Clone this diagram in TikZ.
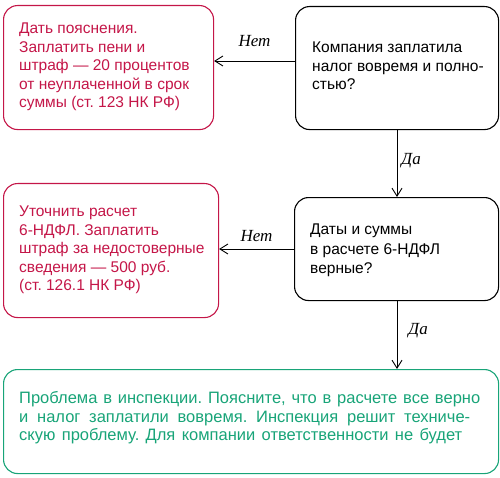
\documentclass[tikz,border=0pt]{standalone}
\usepackage{fontspec}
\setmainfont{Liberation Sans}
\newfontfamily\lblfont{Liberation Serif}
\usetikzlibrary{arrows.meta}
\definecolor{boxred}{RGB}{196,22,72}
\definecolor{boxgreen}{RGB}{24,164,120}
\frenchspacing
\newcommand{\fitline}[2]{\makebox[#1bp][s]{#2}}
\begin{document}
\begin{tikzpicture}[x=1bp,y=-1bp,
  box/.style={draw, line width=1.1bp, rounded corners=14bp, inner sep=0pt, anchor=north west},
  redbox/.style={box, draw=boxred},
  blackbox/.style={box, draw=black},
  greenbox/.style={box, draw=boxgreen},
  txt/.style={align=left, anchor=north west, inner sep=0pt, font=\fontsize{15.5bp}{18.5bp}\selectfont},
  conn/.style={line width=0.9bp, -{Straight Barb[length=8bp,width=10bp,line width=0.9bp]}},
  lbl/.style={font=\lblfont\itshape\fontsize{17bp}{18bp}\selectfont, inner sep=0pt}]
\useasboundingbox (0,0) rectangle (500,478);
\node[redbox, minimum width=210bp, minimum height=124bp] (b1) at (3,5) {};
\node[txt, text=boxred] (t1) at (19,23)
  {Дать пояснения.\\Заплатить пени и\\штраф — 20 процентов\\от неуплаченной в срок\\суммы (ст. 123 НК РФ)};
\node[blackbox, minimum width=203bp, minimum height=123bp] (b2) at (295,6) {};
\node[txt] (t2) at (312,42)
  {Компания заплатила\\налог вовремя и полно-\\стью?};
\node[redbox, minimum width=215bp, minimum height=134bp] (b3) at (3,183) {};
\node[txt, text=boxred] (t3) at (19,206)
  {Уточнить расчет\\6-НДФЛ. Заплатить\\штраф за недостоверные\\сведения — 500 руб.\\(ст. 126.1 НК РФ)};
\node[blackbox, minimum width=204bp, minimum height=103bp] (b4) at (294,197) {};
\node[txt, font=\fontsize{15.5bp}{19.2bp}\selectfont] (t4) at (310,224)
  {Даты и суммы\\в расчете 6-НДФЛ\\верные?};
\node[greenbox, minimum width=495bp, minimum height=104bp] (b5) at (3,369) {};
\node[txt, text=boxgreen, font=\fontsize{16.5bp}{18.5bp}\selectfont] (t5) at (19,391.5)
  {\fitline{461}{Проблема в инспекции. Поясните, что в расчете все верно}\\\fitline{451}{и налог заплатили вовремя. Инспекция решит техниче-}\\\fitline{443}{скую проблему. Для компании ответственности не будет}};
\coordinate (a1s) at (b2.west |- 0,61);
\coordinate (a1e) at (b1.east |- 0,61);
\draw[conn] (a1s) -- node[lbl, above=14bp] (n1) {Нет} (a1e);
\coordinate (a2s) at (b2.south -| 397,0);
\coordinate (a2e) at (b4.north -| 397,0);
\draw[conn] (a2s) -- node[lbl, right=4bp, yshift=3bp] (d1) {Да} (a2e);
\coordinate (a3s) at (b4.west |- 0,249);
\coordinate (a3e) at (b3.east |- 0,249);
\draw[conn] (a3s) -- node[lbl, above=7bp] (n2) {Нет} (a3e);
\coordinate (a4s) at (b4.south -| 397,0);
\coordinate (a4e) at (b5.north -| 397,0);
\draw[conn] (a4s) -- node[lbl, right=11bp, yshift=4.5bp] (d2) {Да} (a4e);
\end{tikzpicture}
\end{document}
